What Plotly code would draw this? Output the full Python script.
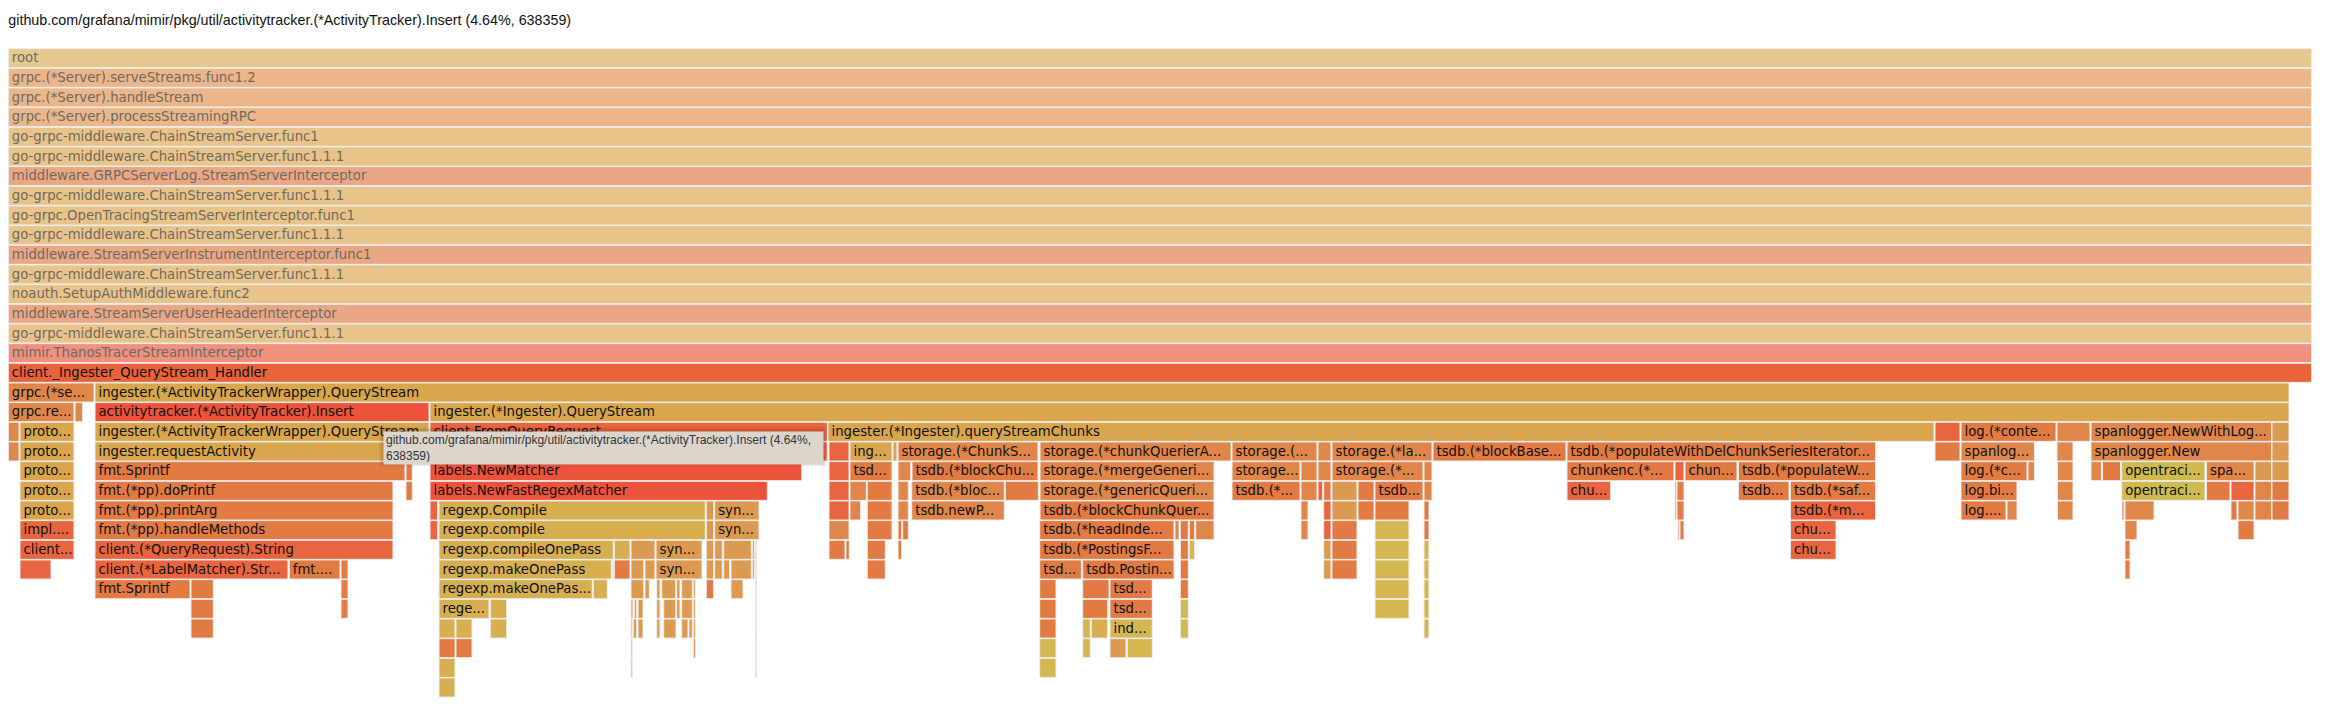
import plotly.graph_objects as go

title_text = "github.com/grafana/mimir/pkg/util/activitytracker.(*ActivityTracker).Insert (4.64%, 638359)"
tooltip_text = "github.com/grafana/mimir/pkg/util/activitytracker.(*ActivityTracker).Insert (4.64%,<br>638359)"

# one entry per flame level, top to bottom
level_starts = [
    [8.3], [8.3], [8.3], [8.3], [8.3], [8.3], [8.3], [8.3], [8.3], [8.3], [8.3], [8.3], [8.3], [8.3], [8.3], [8.3], [8.3],
    [8.3, 95],
    [8.3, 75, 95, 430],
    [8.3, 20, 95, 430, 828, 1935, 1961, 2057, 2091, 2272],
    [8.3, 20, 95, 430, 829, 850, 893, 898, 1040, 1232, 1318, 1332, 1433, 1567, 1935, 1961, 2057, 2091, 2272],
    [20, 95, 406, 430, 829, 850, 898, 912, 1040, 1232, 1301, 1318, 1332, 1424, 1567, 1675, 1685, 1738.4, 1961, 2028, 2057.5, 2091, 2102.5, 2121.7, 2206.5, 2255, 2272],
    [20, 95, 406, 430, 829, 850, 867.3, 898, 911.7, 1005.3, 1040, 1232, 1301, 1318, 1323.7, 1332, 1358, 1375, 1424, 1567, 1675, 1677, 1738.4, 1790.4, 1961, 2057.5, 2121.7, 2206.5, 2231, 2255, 2272],
    [20, 95, 430, 439, 706.3, 714.7, 829, 850, 867.3, 898, 911.7, 1040, 1301, 1323.7, 1332, 1358, 1375, 1424, 1675, 1677, 1790.4, 1961, 2007, 2057.5, 2122, 2125, 2231, 2238, 2255, 2272],
    [20, 95, 430, 439, 706.3, 714.7, 829, 867.3, 898, 902.7, 1039.7, 1175, 1180.3, 1189.3, 1195.7, 1301, 1323.7, 1332, 1375, 1424, 1678, 1680, 1790.4, 2125, 2238],
    [20, 95, 439, 614.3, 631, 656, 706.3, 714.7, 723.7, 752.3, 755.3, 829, 846, 867.3, 898, 1039.7, 1180.3, 1189.3, 1323.7, 1332, 1375, 1424, 1790.4, 2125],
    [20, 95, 289.3, 341, 439, 612.3, 614.3, 631, 645, 656, 706.3, 714.7, 723.7, 731, 752.3, 755.3, 867.3, 1039.7, 1082.7, 1180.3, 1323.7, 1332, 1375, 1424, 2125],
    [95, 191, 341, 439, 593.3, 631, 645, 656.7, 661.7, 676.7, 681.7, 693.3, 706.3, 731, 755.3, 1039.7, 1082.7, 1110, 1180.3, 1375, 1424],
    [191, 341, 439, 490.3, 631, 634.3, 638, 656.7, 663.7, 676.7, 681.7, 693.3, 755.3, 1039.7, 1082.7, 1110, 1180.3, 1375, 1424],
    [191, 439, 456, 490.3, 631, 633.3, 638, 656.7, 663.7, 681.7, 689, 693.3, 755.3, 1039.7, 1082.7, 1091.3, 1110, 1180.3, 1424],
    [439, 456, 631, 693.3, 755.3, 1039.7, 1082.7, 1110, 1127.3],
    [439, 631, 755.3, 1039.7],
    [439],
]
level_ends = [
    [2311.7], [2311.7], [2311.7], [2311.7], [2311.7], [2311.7], [2311.7], [2311.7], [2311.7], [2311.7], [2311.7], [2311.7], [2311.7], [2311.7], [2311.7], [2311.7], [2311.7],
    [94, 2289],
    [74, 82.7, 429, 2289],
    [19, 74, 429, 827.3, 1934, 1960, 2056, 2090, 2271.5, 2289],
    [19, 74, 429, 827.3, 849, 892, 897, 1038, 1231, 1317, 1331, 1432, 1566, 1875.6, 1960, 2034.5, 2073, 2271.5, 2289],
    [74, 405, 412.3, 801.7, 849, 892, 910.7, 1038, 1214, 1300, 1317, 1331, 1423, 1432, 1674, 1684, 1737, 1875.6, 2027, 2034.5, 2073, 2101.5, 2120.5, 2205, 2254, 2271.5, 2289],
    [74, 393, 412.3, 767.3, 849, 866.3, 892, 908.3, 1004.3, 1038.3, 1214, 1300, 1317, 1322.7, 1331, 1357, 1374, 1423, 1432, 1610.7, 1676.7, 1684, 1789, 1875.6, 2017, 2073, 2205, 2230, 2254, 2271.5, 2289],
    [74, 393, 437.7, 705.3, 713.7, 759, 849, 860.7, 892, 908.3, 1004.3, 1214, 1308, 1331, 1357, 1374, 1409, 1429, 1676.7, 1684, 1875.6, 2006, 2017, 2073, 2124, 2154, 2237, 2254, 2271.5, 2289],
    [74, 393, 437.7, 705.3, 713.7, 759, 849, 892, 901.7, 908.3, 1174, 1179, 1188.3, 1194.7, 1214, 1308, 1331, 1357, 1409, 1429, 1679.3, 1684, 1836, 2137, 2254],
    [74, 393, 613.3, 630, 655, 702, 713.7, 722.3, 751.3, 754.3, 756.7, 845, 849.3, 885.3, 901.7, 1174, 1188.3, 1194.7, 1331, 1357, 1409, 1429, 1836, 2130],
    [51, 288, 340, 348, 611.3, 613.3, 630, 643.7, 655, 702, 713.7, 722.3, 729.7, 751.3, 754.3, 756.7, 885.3, 1081.3, 1174, 1188.3, 1331, 1357, 1409, 1429, 2130],
    [190, 213.3, 348, 592.3, 607.3, 643.7, 649.3, 660, 675.7, 680, 692.3, 695.3, 713.7, 743, 756.7, 1056, 1109, 1152.3, 1188.3, 1409, 1429],
    [213.3, 348, 489, 506.7, 633, 636.7, 643, 660, 675.7, 680, 692.3, 695.3, 756.7, 1056, 1107.7, 1152.3, 1188.3, 1409, 1429],
    [213.3, 455, 472, 506.7, 632.3, 636.7, 643, 660, 676, 688, 692.3, 695.3, 756.7, 1056, 1090.3, 1107.7, 1152.3, 1188.3, 1429],
    [455, 472, 632.3, 695.3, 756.7, 1056, 1090.3, 1126, 1152.3],
    [455, 632.3, 756.7, 1056],
    [455],
]
frame_labels = {
    (0, 8.3): "root",
    (1, 8.3): "grpc.(*Server).serveStreams.func1.2",
    (2, 8.3): "grpc.(*Server).handleStream",
    (3, 8.3): "grpc.(*Server).processStreamingRPC",
    (4, 8.3): "go-grpc-middleware.ChainStreamServer.func1",
    (5, 8.3): "go-grpc-middleware.ChainStreamServer.func1.1.1",
    (6, 8.3): "middleware.GRPCServerLog.StreamServerInterceptor",
    (7, 8.3): "go-grpc-middleware.ChainStreamServer.func1.1.1",
    (8, 8.3): "go-grpc.OpenTracingStreamServerInterceptor.func1",
    (9, 8.3): "go-grpc-middleware.ChainStreamServer.func1.1.1",
    (10, 8.3): "middleware.StreamServerInstrumentInterceptor.func1",
    (11, 8.3): "go-grpc-middleware.ChainStreamServer.func1.1.1",
    (12, 8.3): "noauth.SetupAuthMiddleware.func2",
    (13, 8.3): "middleware.StreamServerUserHeaderInterceptor",
    (14, 8.3): "go-grpc-middleware.ChainStreamServer.func1.1.1",
    (15, 8.3): "mimir.ThanosTracerStreamInterceptor",
    (16, 8.3): "client._Ingester_QueryStream_Handler",
    (17, 8.3): "grpc.(*se...",
    (17, 95): "ingester.(*ActivityTrackerWrapper).QueryStream",
    (18, 8.3): "grpc.re...",
    (18, 95): "activitytracker.(*ActivityTracker).Insert",
    (18, 430): "ingester.(*Ingester).QueryStream",
    (19, 20): "proto...",
    (19, 95): "ingester.(*ActivityTrackerWrapper).QueryStream",
    (19, 430): "client.FromQueryRequest",
    (19, 828): "ingester.(*Ingester).queryStreamChunks",
    (19, 1961): "log.(*conte...",
    (19, 2091): "spanlogger.NewWithLog...",
    (20, 20): "proto...",
    (20, 95): "ingester.requestActivity",
    (20, 850): "ing...",
    (20, 898): "storage.(*ChunkS...",
    (20, 1040): "storage.(*chunkQuerierA...",
    (20, 1232): "storage.(...",
    (20, 1332): "storage.(*la...",
    (20, 1433): "tsdb.(*blockBase...",
    (20, 1567): "tsdb.(*populateWithDelChunkSeriesIterator...",
    (20, 1961): "spanlog...",
    (20, 2091): "spanlogger.New",
    (21, 20): "proto...",
    (21, 95): "fmt.Sprintf",
    (21, 430): "labels.NewMatcher",
    (21, 850): "tsd...",
    (21, 912): "tsdb.(*blockChu...",
    (21, 1040): "storage.(*mergeGeneri...",
    (21, 1232): "storage...",
    (21, 1332): "storage.(*...",
    (21, 1567): "chunkenc.(*...",
    (21, 1685): "chun...",
    (21, 1738.4): "tsdb.(*populateW...",
    (21, 1961): "log.(*c...",
    (21, 2121.7): "opentraci...",
    (21, 2206.5): "spa...",
    (22, 20): "proto...",
    (22, 95): "fmt.(*pp).doPrintf",
    (22, 430): "labels.NewFastRegexMatcher",
    (22, 911.7): "tsdb.(*bloc...",
    (22, 1040): "storage.(*genericQueri...",
    (22, 1232): "tsdb.(*...",
    (22, 1375): "tsdb...",
    (22, 1567): "chu...",
    (22, 1738.4): "tsdb...",
    (22, 1790.4): "tsdb.(*saf...",
    (22, 1961): "log.bi...",
    (22, 2121.7): "opentraci...",
    (23, 20): "proto...",
    (23, 95): "fmt.(*pp).printArg",
    (23, 439): "regexp.Compile",
    (23, 714.7): "syn...",
    (23, 911.7): "tsdb.newP...",
    (23, 1040): "tsdb.(*blockChunkQuer...",
    (23, 1790.4): "tsdb.(*m...",
    (23, 1961): "log....",
    (24, 20): "impl....",
    (24, 95): "fmt.(*pp).handleMethods",
    (24, 439): "regexp.compile",
    (24, 714.7): "syn...",
    (24, 1039.7): "tsdb.(*headInde...",
    (24, 1790.4): "chu...",
    (25, 20): "client...",
    (25, 95): "client.(*QueryRequest).String",
    (25, 439): "regexp.compileOnePass",
    (25, 656): "syn...",
    (25, 1039.7): "tsdb.(*PostingsF...",
    (25, 1790.4): "chu...",
    (26, 95): "client.(*LabelMatcher).Str...",
    (26, 289.3): "fmt....",
    (26, 439): "regexp.makeOnePass",
    (26, 656): "syn...",
    (26, 1039.7): "tsd...",
    (26, 1082.7): "tsdb.Postin...",
    (27, 95): "fmt.Sprintf",
    (27, 439): "regexp.makeOnePas...",
    (27, 1110): "tsd...",
    (28, 439): "rege...",
    (28, 1110): "tsd...",
    (29, 1110): "ind...",
}

frame_colors = {
    "T": "#e6c98f", "P": "#ebb68a", "S": "#e8c48a", "L": "#eaa784", "K": "#f0907e",
    "H": "#e8623c", "g": "#d9a64e", "R": "#ec533a", "r": "#e8653f",
    "o": "#e27a44", "a": "#e0864a", "e": "#d7ae50", "Y": "#d5b752", "v": "#cfba50",
    "t": "#dc9a50",
}

# usual colour of a level, then the frames that differ from it
level_hues = list("TPPPSSLSSSLSSLSKH" "ggg" "aa" "ooooooooo" "eee")
hue_overrides = {
    (17, 8.3): "a",
    (18, 8.3): "a", (18, 75): "a", (18, 95): "R",
    (19, 8.3): "a", (19, 430): "r", (19, 1935): "r", (19, 1961): "o", (19, 2057): "a", (19, 2091): "a", (19, 2272): "t",
    (20, 430): "r", (20, 829): "r", (20, 850): "g", (20, 893): "g", (20, 95): "g", (20, 20): "g",
    (20, 1433): "o", (20, 1567): "o", (20, 1935): "o", (20, 2272): "t",
    (21, 20): "g", (21, 95): "o", (21, 406): "o", (21, 430): "R", (21, 829): "r", (21, 850): "o", (21, 912): "o",
    (21, 1567): "o", (21, 1675): "r", (21, 1685): "o", (21, 1738.4): "o", (21, 1961): "o",
    (21, 2102.5): "o", (21, 2121.7): "v", (21, 2255): "t", (21, 2272): "t",
    (22, 20): "g", (22, 430): "R", (22, 829): "r", (22, 850): "a", (22, 898): "a", (22, 911.7): "a", (22, 1040): "a",
    (22, 1301): "a", (22, 1318): "r", (22, 1332): "t", (22, 1424): "a", (22, 1567): "r", (22, 1675): "a",
    (22, 2057.5): "a", (22, 2121.7): "v", (22, 2231): "r", (22, 2255): "a",
    (23, 20): "g", (23, 430): "r", (23, 439): "e", (23, 706.3): "t", (23, 714.7): "t", (23, 829): "r", (23, 850): "a",
    (23, 898): "a", (23, 911.7): "a", (23, 1301): "a", (23, 1323.7): "r", (23, 1332): "t", (23, 1675): "a",
    (23, 1790.4): "r", (23, 2007): "a", (23, 2057.5): "a", (23, 2125): "a", (23, 2238): "a", (23, 2255): "a",
    (24, 20): "r", (24, 430): "r", (24, 439): "e", (24, 706.3): "t", (24, 714.7): "t", (24, 829): "a", (24, 1175): "a",
    (24, 1195.7): "a", (24, 1301): "a", (24, 1323.7): "r", (24, 1375): "Y", (24, 1678): "r", (24, 1790.4): "r", (24, 2125): "a",
    (25, 20): "r", (25, 95): "r", (25, 439): "e", (25, 614.3): "e", (25, 631): "t", (25, 656): "t",
    (25, 706.3): "t", (25, 714.7): "t", (25, 723.7): "t", (25, 752.3): "t", (25, 755.3): "t",
    (25, 1189.3): "Y", (25, 1323.7): "t", (25, 1375): "Y", (25, 1424): "Y", (25, 1790.4): "r",
    (26, 20): "r", (26, 95): "r", (26, 439): "e", (26, 612.3): "e", (26, 631): "t", (26, 645): "t",
    (26, 656): "t", (26, 706.3): "t", (26, 714.7): "t", (26, 723.7): "t", (26, 731): "t", (26, 752.3): "t",
    (26, 755.3): "t", (26, 1323.7): "t", (26, 1375): "Y", (26, 1424): "Y",
    (27, 439): "e", (27, 593.3): "e", (27, 631): "t", (27, 645): "t", (27, 656.7): "t", (27, 661.7): "t",
    (27, 676.7): "t", (27, 681.7): "t", (27, 693.3): "t", (27, 731): "t", (27, 755.3): "t",
    (27, 1375): "Y", (27, 1424): "Y",
    (28, 439): "e", (28, 490.3): "e", (28, 631): "t", (28, 634.3): "t", (28, 638): "t", (28, 656.7): "t",
    (28, 663.7): "t", (28, 676.7): "t", (28, 681.7): "t", (28, 693.3): "t", (28, 755.3): "t",
    (28, 1180.3): "Y", (28, 1375): "Y", (28, 1424): "Y",
    (29, 439): "e", (29, 456): "e", (29, 490.3): "e", (29, 631): "t", (29, 633.3): "t", (29, 638): "t",
    (29, 656.7): "t", (29, 663.7): "t", (29, 681.7): "t", (29, 689): "t", (29, 693.3): "t", (29, 755.3): "t",
    (29, 1082.7): "Y", (29, 1091.3): "e", (29, 1110): "Y", (29, 1180.3): "Y", (29, 1424): "Y",
    (30, 631): "t", (30, 755.3): "t", (30, 1039.7): "Y", (30, 1082.7): "Y", (30, 1110): "t", (30, 1127.3): "Y",
    (31, 631): "t", (31, 755.3): "t", (31, 1039.7): "Y",
}

rows, bases, widths, colors = [], [], [], []
label_x, label_y, label_text, label_color = [], [], [], []
for level, (starts, ends) in enumerate(zip(level_starts, level_ends, strict=True)):
    for start, end in zip(starts, ends, strict=True):
        hue = hue_overrides.get((level, start), level_hues[level])
        rows.append(level)
        bases.append(start)
        widths.append(end - start)
        colors.append(frame_colors[hue])
        name = frame_labels.get((level, start))
        if name:
            label_x.append(start + 3.5)
            label_y.append(level + 0.04)
            label_text.append(name)
            label_color.append("#6e6a62" if level < 16 else "#111111")

fig = go.Figure()
fig.add_trace(go.Bar(
    y=rows, x=widths, base=bases, orientation="h", width=0.97,
    marker=dict(color=colors, line=dict(color="#eeeeee", width=1)),
    hoverinfo="skip",
))
fig.add_trace(go.Scatter(
    x=label_x, y=label_y, text=label_text, mode="text", textposition="middle right",
    textfont=dict(family="DejaVu Sans", size=13.25, color=label_color),
    hoverinfo="skip", cliponaxis=False,
))

# shadow under the hover tooltip
for grow, alpha in [(4, 0.05), (2, 0.08)]:
    fig.add_shape(type="rect", layer="above", xref="x", yref="paper",
                  x0=383 - grow, x1=822.7 + grow,
                  y0=1 - (462.7 + grow) / 706, y1=1 - (431 - grow) / 706,
                  fillcolor=f"rgba(0,0,0,{alpha})", line_width=0)

fig.add_annotation(
    text=tooltip_text, xref="paper", yref="paper", x=383 / 2329, y=1 - 431 / 706,
    xanchor="left", yanchor="top", width=435, height=28, align="left", valign="middle", showarrow=False,
    bgcolor="#dcd5cb", borderpad=2, font=dict(family="Liberation Sans", size=12, color="#333333"),
)

fig.update_layout(
    width=2329, height=706, margin=dict(l=0, r=0, t=0, b=0),
    paper_bgcolor="white", plot_bgcolor="white", showlegend=False,
    title=dict(text=title_text, x=8.3 / 2329, xanchor="left", y=1 - 20 / 706, yanchor="middle",
               font=dict(family="Liberation Sans", size=14.3, color="#111111")),
    xaxis=dict(range=[0, 2329], visible=False, fixedrange=True),
    yaxis=dict(range=[32.94, -2.955], visible=False, fixedrange=True),
)

fig.write_html("out.html", config=dict(displayModeBar=False), post_script="document.body.style.margin='0';")
